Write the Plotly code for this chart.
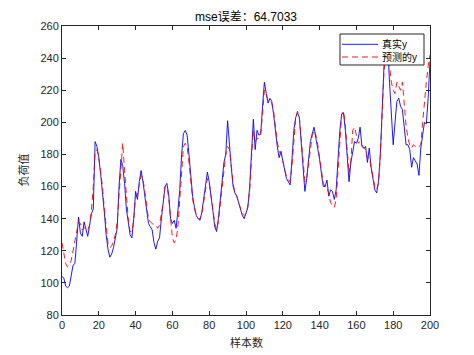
import plotly.graph_objects as go

x_vals = list(range(0, 201))

true_y = [104, 103, 98, 97, 98, 105, 111, 112, 128, 141,
          131, 129, 138, 133, 129, 136, 143, 146, 188, 185,
          178, 168, 157, 144, 130, 121, 116, 118, 122, 128,
          134, 160, 177, 173, 162, 146, 138, 130, 128, 140,
          157, 152, 163, 170, 163, 155, 146, 137, 135, 133,
          125, 121, 126, 128, 140, 150, 160, 162, 155, 140,
          137, 139, 134, 145, 158, 180, 193, 195, 192, 180,
          165, 154, 147, 142, 140, 139, 144, 152, 158, 169,
          163, 155, 145, 135, 132, 140, 150, 163, 175, 180,
          201, 185, 172, 160, 156, 154, 150, 145, 142, 140,
          143, 147, 160, 183, 202, 183, 195, 192, 193, 210,
          225, 218, 212, 215, 213, 205, 193, 185, 178, 182,
          176, 170, 165, 163, 161, 177, 195, 203, 206, 203,
          188, 174, 157, 165, 177, 188, 193, 197, 190, 184,
          177, 168, 160, 160, 164, 154, 158, 157, 152, 158,
          175, 195, 205, 206, 195, 180, 163, 175, 182, 188,
          187, 190, 197, 185, 184, 185, 175, 184, 172, 165,
          158, 156, 163, 180, 210, 235, 245, 248, 225, 203,
          186, 200, 213, 215, 210, 208, 196, 186, 186, 183,
          172, 178, 176, 174, 167, 184, 192, 200, 199, 215,
          238]

pred_y = [125, 118, 112, 110, 111, 114, 120, 124, 130, 138,
          137, 133, 134, 135, 133, 136, 145, 160, 182, 183,
          178, 170, 160, 146, 133, 125, 122, 123, 126, 130,
          138, 155, 175, 187, 170, 152, 140, 132, 132, 140,
          153, 155, 160, 167, 165, 157, 148, 140, 138, 137,
          136, 136, 134, 136, 142, 150, 160, 160, 153, 140,
          128, 125, 127, 135, 150, 170, 185, 187, 185, 175,
          163, 152, 146, 142, 140, 140, 143, 150, 157, 165,
          162, 155, 146, 137, 133, 138, 148, 160, 172, 180,
          185, 183, 173, 162, 156, 154, 150, 146, 143, 142,
          143, 148, 157, 178, 195, 188, 190, 190, 193, 205,
          220, 218, 213, 213, 212, 207, 197, 188, 182, 180,
          176, 170, 166, 164, 163, 173, 190, 203, 207, 203,
          190, 177, 163, 165, 175, 186, 192, 195, 192, 186,
          178, 170, 162, 160, 160, 155, 150, 148, 147, 152,
          168, 190, 205, 207, 198, 183, 168, 176, 195, 197,
          192, 187, 188, 186, 184, 183, 178, 178, 172, 165,
          160, 158, 162, 178, 205, 232, 242, 245, 235, 225,
          220, 218, 225, 222, 220, 225, 210, 198, 190, 186,
          184, 186, 185, 184, 185, 186, 200, 215, 225, 235,
          242]

x_ticks = [0, 20, 40, 60, 80, 100, 120, 140, 160, 180, 200]
y_ticks = [80, 100, 120, 140, 160, 180, 200, 220, 240, 260]

title_text = "mse误差：64.7033"
x_label = "样本数"
y_label = "负荷值"
series_names = ["真实y", "预测的y"]
series_colors = ["#0000ff", "#ff0000"]
series_dash = ["solid", "6px,4px"]

fig = go.Figure()
fig.add_trace(go.Scatter(x=x_vals, y=true_y, mode="lines", name=series_names[0],
                         line=dict(color=series_colors[0], width=0.9, dash=series_dash[0])))
fig.add_trace(go.Scatter(x=x_vals, y=pred_y, mode="lines", name=series_names[1],
                         line=dict(color=series_colors[1], width=0.9, dash=series_dash[1])))

axis_common = dict(showline=True, linecolor="#262626", linewidth=1, mirror="ticks",
                   ticks="inside", ticklen=4, tickcolor="#262626", showgrid=False,
                   zeroline=False, automargin=False,
                   tickfont=dict(family="Liberation Sans, Arial", size=11, color="#262626"))

# page body has an 8px margin; plot area in window: x 62-430, y 26-315
W, H = 466, 347
fig.update_layout(
    width=W, height=H,
    margin=dict(l=54, r=44, t=18, b=40, autoexpand=False),
    paper_bgcolor="white", plot_bgcolor="white",
    showlegend=False,
    xaxis=dict(range=[0, 200], tickvals=x_ticks, **axis_common),
    yaxis=dict(range=[80, 260], tickvals=y_ticks, **axis_common),
)

def px_x(px):
    return (px - 62) / 368.0

def px_y(py):
    return (315 - py) / 289.0

# title and axis labels
fig.add_annotation(text=title_text, xref="paper", yref="paper", x=0.5, y=px_y(16.5),
                   xanchor="center", yanchor="middle", showarrow=False,
                   font=dict(family="Liberation Sans, Noto Sans CJK SC", size=12, color="#000000"))
fig.add_annotation(text=x_label, xref="paper", yref="paper", x=0.5, y=px_y(342),
                   xanchor="center", yanchor="middle", showarrow=False,
                   font=dict(family="Noto Sans CJK SC", size=11, color="#262626"))
fig.add_annotation(text=y_label, xref="paper", yref="paper", x=px_x(22), y=0.5,
                   xanchor="center", yanchor="middle", showarrow=False, textangle=-90,
                   font=dict(family="Noto Sans CJK SC", size=11, color="#262626"))

# legend box (MATLAB style, northeast)
fig.add_shape(type="rect", xref="paper", yref="paper",
              x0=px_x(340), x1=px_x(424), y0=px_y(65), y1=px_y(34),
              fillcolor="white", line=dict(color="#262626", width=1), layer="above")
legend_rows_y = [44.3, 57.0]
for name, color, dash, ry in zip(series_names, series_colors, series_dash, legend_rows_y):
    fig.add_shape(type="line", xref="paper", yref="paper",
                  x0=px_x(342), x1=px_x(378), y0=px_y(ry), y1=px_y(ry),
                  line=dict(color=color, width=0.9, dash=dash), layer="above")
    fig.add_annotation(text=name, xref="paper", yref="paper", x=px_x(380), y=px_y(ry),
                       xanchor="left", yanchor="middle", showarrow=False,
                       font=dict(family="Liberation Sans, Noto Sans CJK SC", size=10, color="#000000"))

fig.write_html("out.html")
